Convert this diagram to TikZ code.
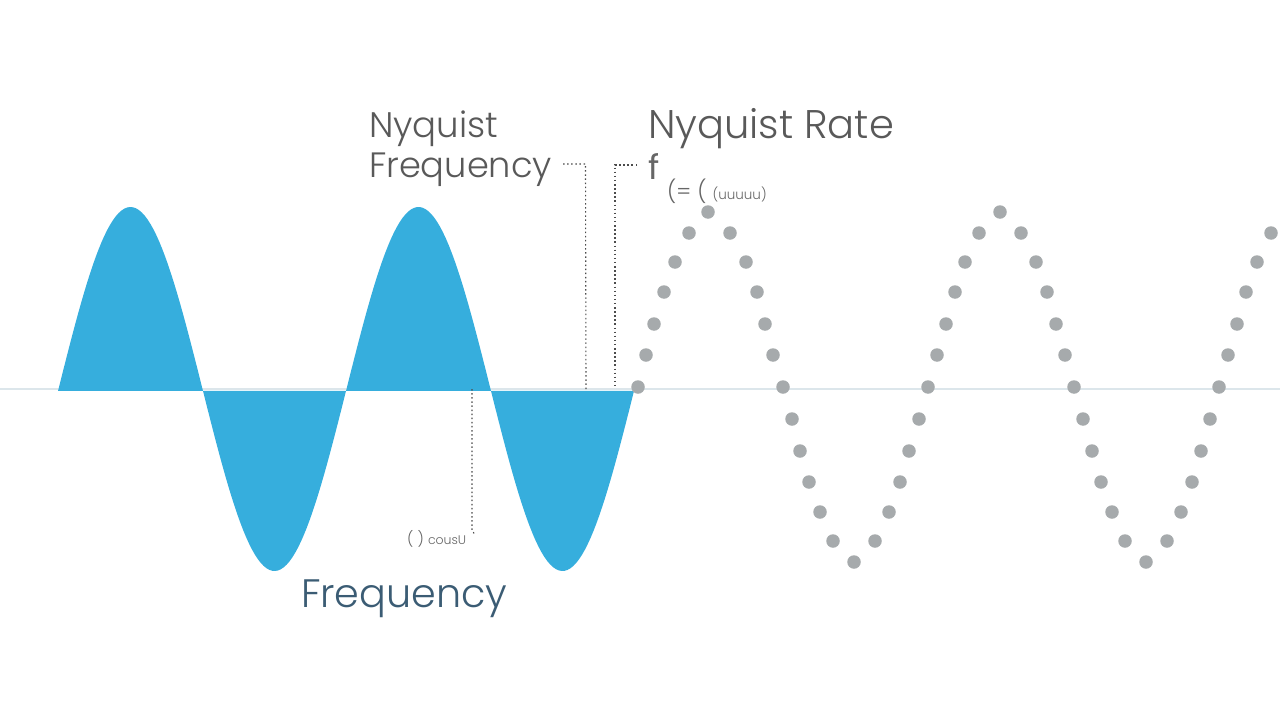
\documentclass[tikz,border=0pt]{standalone}
\usepackage{fontspec}
\setmainfont{Poppins Light}[BoldFont=Poppins]
\begin{document}
\begin{tikzpicture}[x=1pt,y=-1pt,
  lab/.style={inner sep=0pt,outer sep=0pt,text=#1,anchor=base west},
  lab/.default={black!65},
  tiny/.style={inner sep=0pt,text=black!60,anchor=base west},
  leader/.style={black!70,line width=1.1pt,dash pattern=on 1.5pt off 2.6pt},
  sample/.style={circle,fill=dotgrey,inner sep=0pt,minimum size=13.5pt}]
\definecolor{dotgrey}{HTML}{A6AAAC}
\definecolor{waveblue}{HTML}{36AEDD}
\definecolor{freqblue}{HTML}{3B5C74}
\definecolor{axisline}{HTML}{DCE6EB}
\useasboundingbox (0,0) rectangle (1280,720);
\fill[white] (0,0) rectangle (1280,720);
\draw[line width=1.2pt,draw=axisline] (0,389) -- (1280,389);
% continuous wave
\fill[waveblue] (58,389) plot[domain=58:634,samples=200] (\x,{389-182*sin(1.25*(\x-58.5))}) -- cycle;
% sampled dots
\foreach \p/\q in {638/387,646/355,654/324,664/292,675/262,689/233,708/212,730/233,746/262,757/292,765/324,773/355,783/387,792/419,800/451,809/482,820/512,833/541,854/562,875/541,889/512,900/482,909/451,919/419,928/387,937/355,946/324,955/292,965/262,979/233,1000/212,1021/233,1036/262,1047/292,1056/324,1065/355,1074/387,1083/419,1092/451,1101/482,1112/512,1125/541,1146/562,1167/541,1181/512,1192/482,1201/451,1210/419,1219/387,1228/355,1237/324,1246/292,1257/262,1271/233}
  \node[sample] (d\p) at (\p,\q) {};
% labels
\node[lab,font=\fontsize{35.5}{35.5}\selectfont] (nyq) at (369,137) {Nyquist};
\node[lab,font=\fontsize{35.2}{35.2}\selectfont] (freqA) at (369,177) {Frequency};
\node[lab,font=\fontsize{40}{40}\selectfont] (rate) at (648,138.5) {Nyquist Rate};
\node[lab=freqblue,font=\fontsize{39.7}{39.7}\selectfont] (freqB) at (301,607) {Frequency};
\node[tiny,font=\bfseries\fontsize{34}{34}\selectfont] (f) at (648,179) {f};
\node[tiny,font=\fontsize{22}{22}\selectfont] (rateform) at (667,199) {(= ( \fontsize{13.5}{13.5}\selectfont (uuuuu)};
\node[tiny,font=\fontsize{15}{15}\selectfont] (fform) at (407,544) {( ) \fontsize{12.5}{12.5}\selectfont cousU};
% leaders
\coordinate (a0) at (563,164); \coordinate (a1) at (585.5,164); \coordinate (a2) at (586,389);
\coordinate (b0) at (637,165); \coordinate (b1) at (615,165); \coordinate (b2) at (615,389);
\coordinate (c0) at (472,389); \coordinate (c1) at (472,530); \coordinate (c2) at (475,535);
\draw[leader] (a0) -- (a1) -- (a2);
\draw[leader] (b0) -- (b1) -- (b2);
\draw[leader] (c0) -- (c1) -- (c2);
\end{tikzpicture}
\end{document}
